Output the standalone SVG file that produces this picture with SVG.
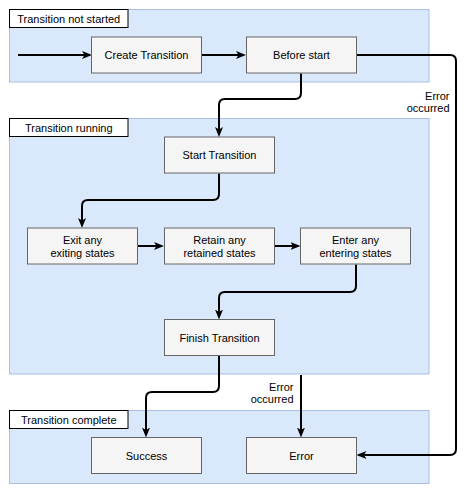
<svg xmlns="http://www.w3.org/2000/svg" width="474" height="493" viewBox="0 0 474 493">
<style>
.grp{fill:#dae8fc;stroke:#a9c0e2;stroke-width:1}
.lbl{fill:#ffffff;stroke:#000000;stroke-width:1}
.node{fill:#f5f5f5;stroke:#666666;stroke-width:1}
.t{font-family:"Liberation Sans",Arial,sans-serif;font-size:11px;fill:#000000}
.c{text-anchor:middle}
.e{text-anchor:end}
.edge{fill:none;stroke:#000000;stroke-width:2;marker-end:url(#arr)}
</style>
<defs>
<marker id="arr" markerUnits="userSpaceOnUse" viewBox="0 0 10 10" refX="7" refY="5" markerWidth="10" markerHeight="10" orient="auto">
<path d="M0,1 L10,5 L0,9 L2.5,5 Z" fill="#000000"/>
</marker>
</defs>
<rect width="474" height="493" fill="#ffffff"/>
<g id="group-not-started">
<rect class="grp" x="9.5" y="9.5" width="419.5" height="72.5"/>
<rect class="lbl" x="9.5" y="9.5" width="118.5" height="18"/>
<text class="t c" x="68.75" y="22.5">Transition not started</text>
</g>
<g id="group-running">
<rect class="grp" x="9.5" y="118.5" width="419.5" height="255.5"/>
<rect class="lbl" x="9.5" y="118.5" width="118.5" height="18"/>
<text class="t c" x="68.75" y="131.5">Transition running</text>
</g>
<g id="group-complete">
<rect class="grp" x="9.5" y="410.5" width="419.5" height="73"/>
<rect class="lbl" x="9.5" y="410.5" width="118.5" height="18"/>
<text class="t c" x="68.75" y="423.5">Transition complete</text>
</g>
<g id="connectors">
<path class="edge" d="M18,55 H89"/>
<path class="edge" d="M201.5,55 H243"/>
<path class="edge" d="M301,73.5 V93 Q301,99 295,99 H225 Q219,99 219,105 V134"/>
<path class="edge" d="M356.5,55 H450 Q456,55 456,61 V449 Q456,455 450,455 H359.5"/>
<path class="edge" d="M219,173.5 V194 Q219,200 213,200 H88 Q82,200 82,206 V225"/>
<path class="edge" d="M137.5,246 H161"/>
<path class="edge" d="M274.5,246 H297.5"/>
<path class="edge" d="M356,264.5 V286 Q356,292 350,292 H225 Q219,292 219,298 V316.5"/>
<path class="edge" d="M219,356 V386 Q219,392 213,392 H152 Q146,392 146,398 V434.5"/>
<path class="edge" d="M301,375 V434.5"/>
<text class="t e" x="449.5" y="100">Error</text>
<text class="t e" x="449.5" y="112">occurred</text>
<text class="t e" x="293.5" y="391">Error</text>
<text class="t e" x="293.5" y="403">occurred</text>
</g>
<g id="node-create">
<rect class="node" x="91.5" y="37" width="110" height="36"/>
<text class="t c" x="146.5" y="59">Create Transition</text>
</g>
<g id="node-before">
<rect class="node" x="246.5" y="37" width="110" height="36"/>
<text class="t c" x="301.5" y="59">Before start</text>
</g>
<g id="node-start">
<rect class="node" x="164.5" y="137" width="110" height="36"/>
<text class="t c" x="219.5" y="159">Start Transition</text>
</g>
<g id="node-exit">
<rect class="node" x="27.5" y="228" width="110" height="36"/>
<text class="t c" x="82.5" y="244">Exit any</text>
<text class="t c" x="82.5" y="257">exiting states</text>
</g>
<g id="node-retain">
<rect class="node" x="164.5" y="228" width="110" height="36"/>
<text class="t c" x="219.5" y="244">Retain any</text>
<text class="t c" x="219.5" y="257">retained states</text>
</g>
<g id="node-enter">
<rect class="node" x="300.5" y="228" width="110" height="36"/>
<text class="t c" x="355.5" y="244">Enter any</text>
<text class="t c" x="355.5" y="257">entering states</text>
</g>
<g id="node-finish">
<rect class="node" x="164.5" y="319.5" width="110" height="36"/>
<text class="t c" x="219.5" y="341.5">Finish Transition</text>
</g>
<g id="node-success">
<rect class="node" x="91.5" y="437.5" width="110" height="36"/>
<text class="t c" x="146.5" y="459.5">Success</text>
</g>
<g id="node-error">
<rect class="node" x="246.5" y="437.5" width="110" height="36"/>
<text class="t c" x="301.5" y="459.5">Error</text>
</g>
</svg>
